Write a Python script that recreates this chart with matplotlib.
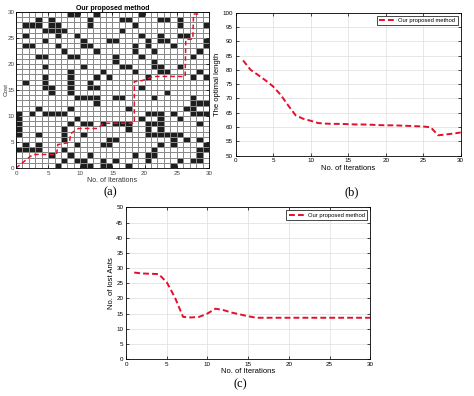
import numpy as np
import matplotlib
matplotlib.use("Agg")
import matplotlib.pyplot as plt
from matplotlib.colors import ListedColormap

# ---- data ----
# obstacle map, top row (y=29) first, '#' = obstacle
grid_rows = [
    "........##..#......#..........",
    "...#.#.....#....##....##.#....",
    ".###.##....#......#......#...#",
    "....####........#.............",
    ".#....#..#.........#..#..##...",
    "....#.....#...##....#.##.....#",
    ".##...#...##......#.#...#....#",
    ".......#....#.....#..#......#.",
    "...##...##.....#...#.......#..",
    "...............#.....#........",
    "....#.....#.....##...##..#....",
    "........#....#....#...##....#.",
    "....#...#...#.#.....#......#.#",
    ".#..#...#..#..................",
    "....##..#..##......#..........",
    ".....#..#..............#......",
    ".........####..##....#.....#..",
    "............#..............###",
    "...#....#........#........##..",
    "#.#.####............###.#..###",
    "#........#.........#..#..#....",
    "#.......#.##.#.###..###.....#.",
    "#......#.........#..#.#.......",
    "#..#...#..#.........######....",
    ".......#......##........#.#.#.",
    ".#.#.....#...##.......#.#....#",
    "####...#.............#......##",
    ".....#..#..#......#.##......#.",
    ".......#.##..#.#....#....#.##.",
    "......#...##.##..#......#.....",
]

path_x = [0, 2.6, 6.3, 6.5, 8.3, 8.5, 9.7, 12.7, 13.6, 18.4, 18.4, 19.6,
          21.4, 26.3, 26.4, 27.5, 27.6, 28.7]
path_y = [0, 2.6, 2.6, 4.5, 4.9, 6.6, 7.6, 7.6, 8.6, 8.6, 16.6, 16.8,
          17.6, 17.6, 24.7, 24.8, 29.6, 29.6]

iters = np.arange(1, 31)
opt_length = [83.3, 80.0, 78.2, 76.3, 74.2, 71.3, 67.6, 64.1, 62.9, 62.2,
              61.4, 61.2, 61.1, 61.1, 61.0, 60.9, 60.9, 60.8, 60.7, 60.6,
              60.6, 60.5, 60.4, 60.3, 60.2, 59.9, 57.1, 57.4, 57.7, 58.1]
lost_ants = [28.5, 28.2, 28.1, 28.0, 25.3, 20.3, 13.9, 13.7, 13.9, 15.0,
             16.6, 16.1, 15.3, 14.7, 14.1, 13.6, 13.6, 13.6, 13.6, 13.6,
             13.6, 13.6, 13.6, 13.6, 13.6, 13.6, 13.6, 13.6, 13.6, 13.6]

legend_label = "Our proposed method"
red = "#e3102c"
sans = ["Liberation Sans", "DejaVu Sans"]
serif = ["Liberation Serif", "DejaVu Serif"]

plt.rcParams["font.family"] = sans
plt.rcParams["font.size"] = 5


def style_axes(ax):
    ax.tick_params(direction="in", length=2, width=0.5, labelsize=4.5,
                   top=True, right=True, pad=2)
    for s in ax.spines.values():
        s.set_linewidth(0.6)


fig = plt.figure(figsize=(4.74, 3.96), dpi=100)

# ---- (a) grid map ----
ax_a = fig.add_axes([0.0338, 0.5758, 0.407, 0.394])
occ = np.array([[1 if ch == "#" else 0 for ch in row] for row in grid_rows[::-1]])
ax_a.pcolormesh(np.arange(31), np.arange(31), occ,
                cmap=ListedColormap(["white", "#1e1e1e"]),
                edgecolors="#8a8a8a", linewidth=0.4)
ax_a.plot(path_x, path_y, "--", color=red, lw=1.1, dashes=(3, 2))
ax_a.set_xlim(0, 30)
ax_a.set_ylim(0, 30)
ax_a.set_xticks(range(0, 31, 5))
ax_a.set_yticks(range(0, 31, 5))
ax_a.set_title("Our proposed method", fontsize=5, fontweight="bold", pad=1.5)
ax_a.set_xlabel("No. of Iterations", fontsize=5, labelpad=1, color="#333333")
ax_a.set_ylabel("Cost", fontsize=4.5, color="#333333")
style_axes(ax_a)
ax_a.tick_params(axis="y", pad=1.2)
ax_a.tick_params(labelcolor="#444444")
ax_a.yaxis.set_label_coords(-0.038, 0.5)
fig.text(0.232, 0.515, "(a)", family=serif, fontsize=9, ha="center", va="center")

# ---- (b) optimal length ----
ax_b = fig.add_axes([0.497, 0.607, 0.475, 0.361])
ax_b.plot(iters, opt_length, "--", color=red, lw=1.4, dashes=(3, 1.6),
          label=legend_label)
ax_b.set_xlim(0, 30)
ax_b.set_ylim(50, 100)
ax_b.set_xticks(range(0, 31, 5))
ax_b.set_yticks(range(50, 101, 5))
ax_b.grid(True, color="#dddddd", lw=0.5)
ax_b.set_xlabel("No. of Iterations", fontsize=5.5, labelpad=1)
ax_b.set_ylabel("The optimal length", fontsize=5.5, labelpad=1)
ax_b.legend(loc="upper right", fontsize=4.2, frameon=True, fancybox=False,
            edgecolor="black", framealpha=1, handlelength=3, borderpad=0.4,
            handletextpad=0.3).get_frame().set_linewidth(0.5)
style_axes(ax_b)
fig.text(0.742, 0.515, "(b)", family=serif, fontsize=9, ha="center", va="center")

# ---- (c) lost ants ----
ax_c = fig.add_axes([0.266, 0.0934, 0.515, 0.383])
ax_c.plot(iters, lost_ants, "--", color=red, lw=1.4, dashes=(3, 1.6),
          label=legend_label)
ax_c.set_xlim(0, 30)
ax_c.set_ylim(0, 50)
ax_c.set_xticks(range(0, 31, 5))
ax_c.set_yticks(range(0, 51, 5))
ax_c.grid(True, color="#dddddd", lw=0.5)
ax_c.set_xlabel("No. of Iterations", fontsize=5.5, labelpad=1)
ax_c.set_ylabel("No. of lost Ants", fontsize=5.5, labelpad=1)
ax_c.legend(loc="upper right", fontsize=4.2, frameon=True, fancybox=False,
            edgecolor="black", framealpha=1, handlelength=3, borderpad=0.4,
            handletextpad=0.3).get_frame().set_linewidth(0.5)
style_axes(ax_c)
fig.text(0.508, 0.03, "(c)", family=serif, fontsize=9, ha="center", va="center")

fig.savefig("out.png", dpi=100)
